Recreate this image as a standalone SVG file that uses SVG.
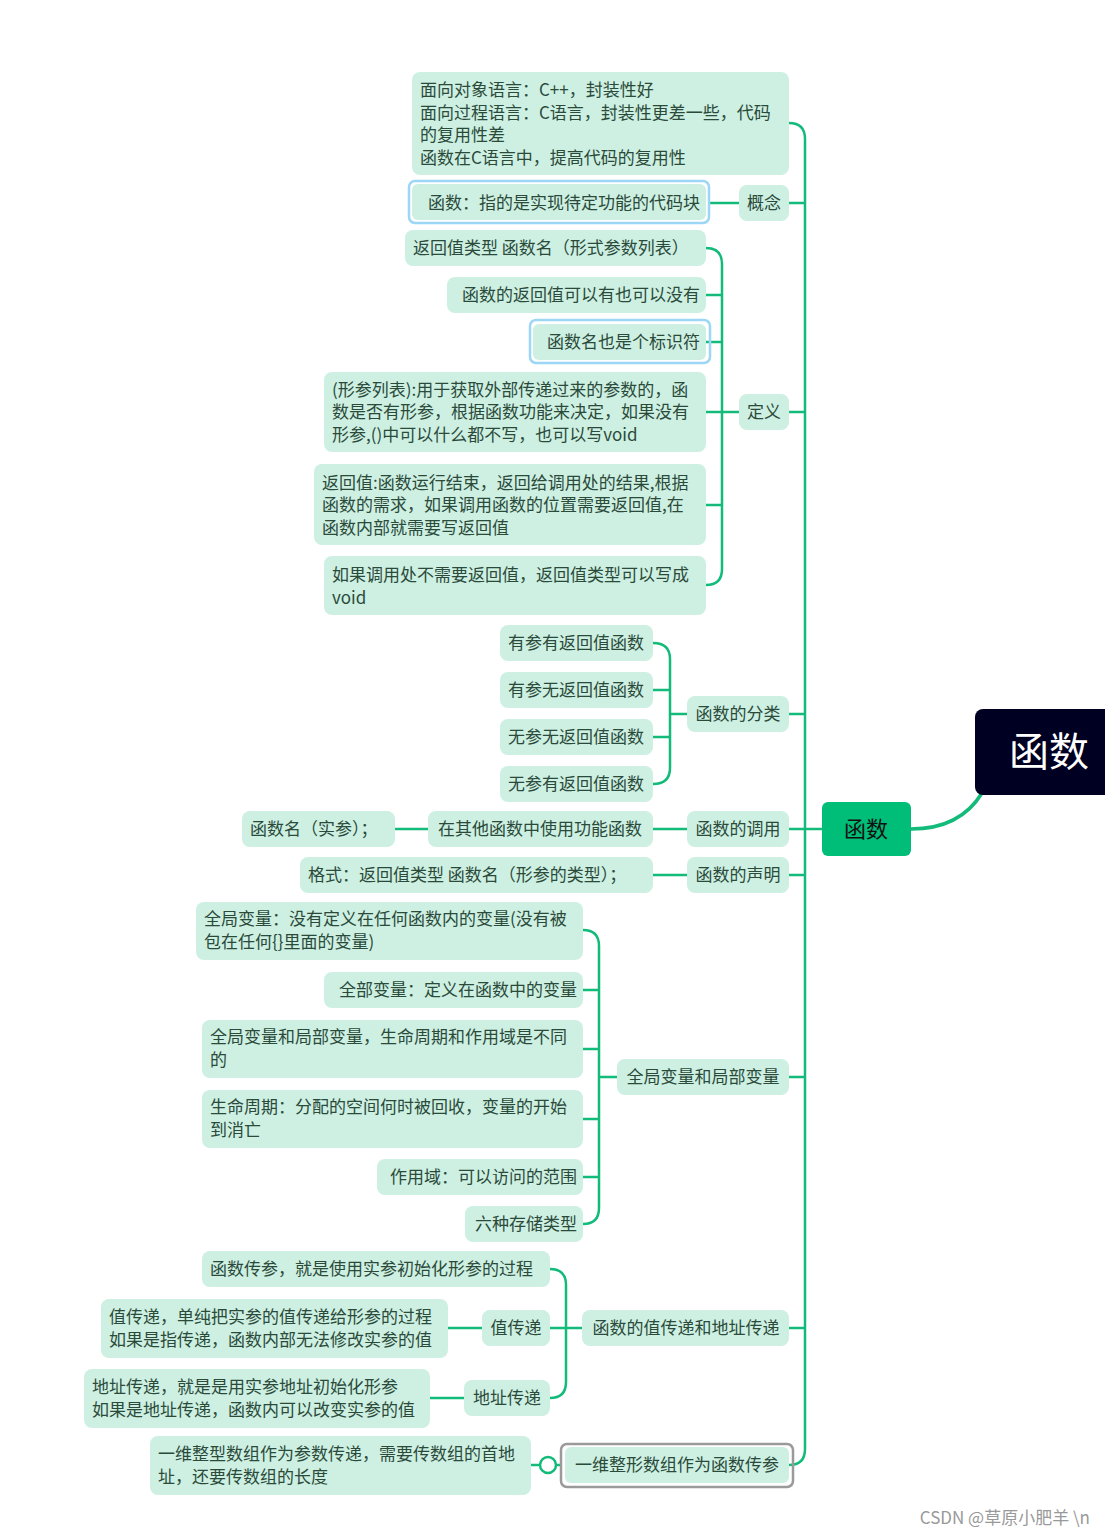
<svg xmlns="http://www.w3.org/2000/svg" width="1105" height="1537" viewBox="0 0 1105 1537">
<style>
.n{fill:#cdf0e2}
.t{font-family:"Noto Sans CJK SC","Liberation Sans",sans-serif;font-size:17px;fill:#2b4a3a}
.e{text-anchor:end}
.c{fill:none;stroke:#13bb7a;stroke-width:2.5}
.sel{fill:none;stroke:#9cd7f5;stroke-width:2.5}
</style>
<rect width="1105" height="1537" fill="#fff"/>
<g id="connectors" class="c">
<path d="M789,123 Q805,123 805,139 V1449 Q805,1465 789,1465"/>
<path d="M789,203 H805 M789,412 H805 M789,714 H805 M789,829 H822 M789,875 H805 M789,1077 H805 M789,1328 H805"/>
<path d="M911,829 Q960,829 982,793" stroke-width="3.5"/>
<path d="M708,203 H739"/>
<path d="M706,248 Q722,248 722,264 V569 Q722,585 706,585 M706,295 H722 M706,342 H722 M706,412 H739 M706,505 H722"/>
<path d="M653,643 Q670,643 670,659 V768 Q670,784 653,784 M653,690 H670 M653,737 H670 M670,714 H687"/>
<path d="M395,829 H428 M653,829 H687 M653,875 H687"/>
<path d="M583,930 Q599,930 599,946 V1208 Q599,1224 583,1224 M583,990 H599 M583,1049 H599 M583,1119 H599 M583,1177 H599 M599,1077 H617"/>
<path d="M550,1269 Q566,1269 566,1285 V1382 Q566,1398 550,1398 M550,1328 H582 M448,1328 H482 M430,1398 H464"/>
<path d="M531,1465 H561"/>
<circle cx="548" cy="1465" r="8" fill="#fff"/>
</g>
<g id="root"><rect x="975" y="709" width="140" height="86" rx="8" fill="#000022"/><text x="1049" y="766" font-family="Noto Sans CJK SC,sans-serif" font-size="40" fill="#fff" text-anchor="middle">函数</text></g>
<g id="center"><rect x="822" y="802" width="89" height="54" rx="6" fill="#00bd78"/><text x="866" y="837" font-family="Noto Sans CJK SC,sans-serif" font-size="22" fill="#111" text-anchor="middle">函数</text></g>
<g id="intro"><rect class="n" x="412" y="72" width="377" height="103" rx="8"/><text class="t" x="420" y="96">面向对象语言：C++，封装性好</text><text class="t" x="420" y="119">面向过程语言：C语言，封装性更差一些，代码</text><text class="t" x="420" y="141">的复用性差</text><text class="t" x="420" y="164">函数在C语言中，提高代码的复用性</text></g>
<g id="gainian"><rect class="n" x="739" y="185" width="50" height="36" rx="8"/><text class="t" x="764" y="209" text-anchor="middle">概念</text></g>
<g id="gn1"><rect class="sel" x="409" y="181" width="300" height="42" rx="6"/><rect class="n" x="412" y="184" width="294" height="36" rx="6"/><text class="t e" x="700" y="209">函数：指的是实现待定功能的代码块</text></g>
<g id="dingyi"><rect class="n" x="739" y="394" width="50" height="36" rx="8"/><text class="t" x="764" y="418" text-anchor="middle">定义</text></g>
<g id="dy1"><rect class="n" x="405" y="230" width="301" height="36" rx="8"/><text class="t" x="413" y="254">返回值类型 函数名（形式参数列表）</text></g>
<g id="dy2"><rect class="n" x="447" y="277" width="259" height="36" rx="8"/><text class="t e" x="700" y="301">函数的返回值可以有也可以没有</text></g>
<g id="dy3"><rect class="sel" x="530" y="320" width="180" height="43" rx="6"/><rect class="n" x="533" y="324" width="173" height="36" rx="6"/><text class="t e" x="700" y="348">函数名也是个标识符</text></g>
<g id="dy4"><rect class="n" x="324" y="372" width="382" height="80" rx="8"/><text class="t" x="332" y="396">(形参列表):用于获取外部传递过来的参数的，函</text><text class="t" x="332" y="418">数是否有形参，根据函数功能来决定，如果没有</text><text class="t" x="332" y="441">形参,()中可以什么都不写，也可以写void</text></g>
<g id="dy5"><rect class="n" x="314" y="464" width="392" height="81" rx="8"/><text class="t" x="322" y="489">返回值:函数运行结束，返回给调用处的结果,根据</text><text class="t" x="322" y="511">函数的需求，如果调用函数的位置需要返回值,在</text><text class="t" x="322" y="534">函数内部就需要写返回值</text></g>
<g id="dy6"><rect class="n" x="324" y="556" width="382" height="59" rx="8"/><text class="t" x="332" y="581">如果调用处不需要返回值，返回值类型可以写成</text><text class="t" x="332" y="604">void</text></g>
<g id="fenlei"><rect class="n" x="687" y="696" width="102" height="36" rx="8"/><text class="t" x="738" y="720" text-anchor="middle">函数的分类</text></g>
<g id="fl1"><rect class="n" x="500" y="625" width="153" height="36" rx="8"/><text class="t" x="576" y="649" text-anchor="middle">有参有返回值函数</text></g>
<g id="fl2"><rect class="n" x="500" y="672" width="153" height="36" rx="8"/><text class="t" x="576" y="696" text-anchor="middle">有参无返回值函数</text></g>
<g id="fl3"><rect class="n" x="500" y="719" width="153" height="36" rx="8"/><text class="t" x="576" y="743" text-anchor="middle">无参无返回值函数</text></g>
<g id="fl4"><rect class="n" x="500" y="766" width="153" height="36" rx="8"/><text class="t" x="576" y="790" text-anchor="middle">无参有返回值函数</text></g>
<g id="diaoyong"><rect class="n" x="687" y="811" width="102" height="36" rx="8"/><text class="t" x="738" y="835" text-anchor="middle">函数的调用</text></g>
<g id="dyy1"><rect class="n" x="428" y="811" width="225" height="36" rx="8"/><text class="t" x="540" y="835" text-anchor="middle">在其他函数中使用功能函数</text></g>
<g id="dyy2"><rect class="n" x="242" y="811" width="153" height="36" rx="8"/><text class="t" x="250" y="835">函数名（实参）；</text></g>
<g id="shengming"><rect class="n" x="687" y="857" width="102" height="36" rx="8"/><text class="t" x="738" y="881" text-anchor="middle">函数的声明</text></g>
<g id="sm1"><rect class="n" x="300" y="857" width="353" height="36" rx="8"/><text class="t" x="308" y="881">格式：返回值类型 函数名（形参的类型）；</text></g>
<g id="bianliang"><rect class="n" x="617" y="1059" width="172" height="36" rx="8"/><text class="t" x="703" y="1083" text-anchor="middle">全局变量和局部变量</text></g>
<g id="bl1"><rect class="n" x="196" y="902" width="387" height="58" rx="8"/><text class="t" x="204" y="925">全局变量：没有定义在任何函数内的变量(没有被</text><text class="t" x="204" y="948">包在任何{}里面的变量)</text></g>
<g id="bl2"><rect class="n" x="324" y="972" width="259" height="36" rx="8"/><text class="t e" x="577" y="996">全部变量：定义在函数中的变量</text></g>
<g id="bl3"><rect class="n" x="202" y="1020" width="381" height="58" rx="8"/><text class="t" x="210" y="1043">全局变量和局部变量，生命周期和作用域是不同</text><text class="t" x="210" y="1066">的</text></g>
<g id="bl4"><rect class="n" x="202" y="1090" width="381" height="58" rx="8"/><text class="t" x="210" y="1113">生命周期：分配的空间何时被回收，变量的开始</text><text class="t" x="210" y="1136">到消亡</text></g>
<g id="bl5"><rect class="n" x="377" y="1159" width="206" height="36" rx="8"/><text class="t e" x="577" y="1183">作用域：可以访问的范围</text></g>
<g id="bl6"><rect class="n" x="465" y="1206" width="118" height="36" rx="8"/><text class="t e" x="577" y="1230">六种存储类型</text></g>
<g id="chuandi"><rect class="n" x="582" y="1310" width="207" height="36" rx="8"/><text class="t" x="686" y="1334" text-anchor="middle">函数的值传递和地址传递</text></g>
<g id="cd1"><rect class="n" x="202" y="1251" width="348" height="36" rx="8"/><text class="t" x="210" y="1275">函数传参，就是使用实参初始化形参的过程</text></g>
<g id="cd2"><rect class="n" x="482" y="1310" width="68" height="36" rx="8"/><text class="t" x="516" y="1334" text-anchor="middle">值传递</text></g>
<g id="cd2a"><rect class="n" x="101" y="1299" width="347" height="59" rx="8"/><text class="t" x="109" y="1323">值传递，单纯把实参的值传递给形参的过程</text><text class="t" x="109" y="1346">如果是指传递，函数内部无法修改实参的值</text></g>
<g id="cd3"><rect class="n" x="464" y="1380" width="86" height="36" rx="8"/><text class="t" x="507" y="1404" text-anchor="middle">地址传递</text></g>
<g id="cd3a"><rect class="n" x="84" y="1369" width="346" height="59" rx="8"/><text class="t" x="92" y="1393">地址传递，就是是用实参地址初始化形参</text><text class="t" x="92" y="1416">如果是地址传递，函数内可以改变实参的值</text></g>
<g id="shuzu"><rect x="561" y="1444" width="232" height="43" rx="6" fill="none" stroke="#9a9a9a" stroke-width="2.5"/><rect class="n" x="565" y="1447" width="224" height="36" rx="6"/><text class="t" x="677" y="1471" text-anchor="middle">一维整形数组作为函数传参</text></g>
<g id="sz1"><rect class="n" x="150" y="1436" width="381" height="59" rx="8"/><text class="t" x="158" y="1460">一维整型数组作为参数传递，需要传数组的首地</text><text class="t" x="158" y="1483">址，还要传数组的长度</text></g>
<text x="1090" y="1524" font-family="Noto Sans CJK SC,sans-serif" font-size="17" fill="#999" text-anchor="end">CSDN @草原小肥羊 \n</text>
</svg>
